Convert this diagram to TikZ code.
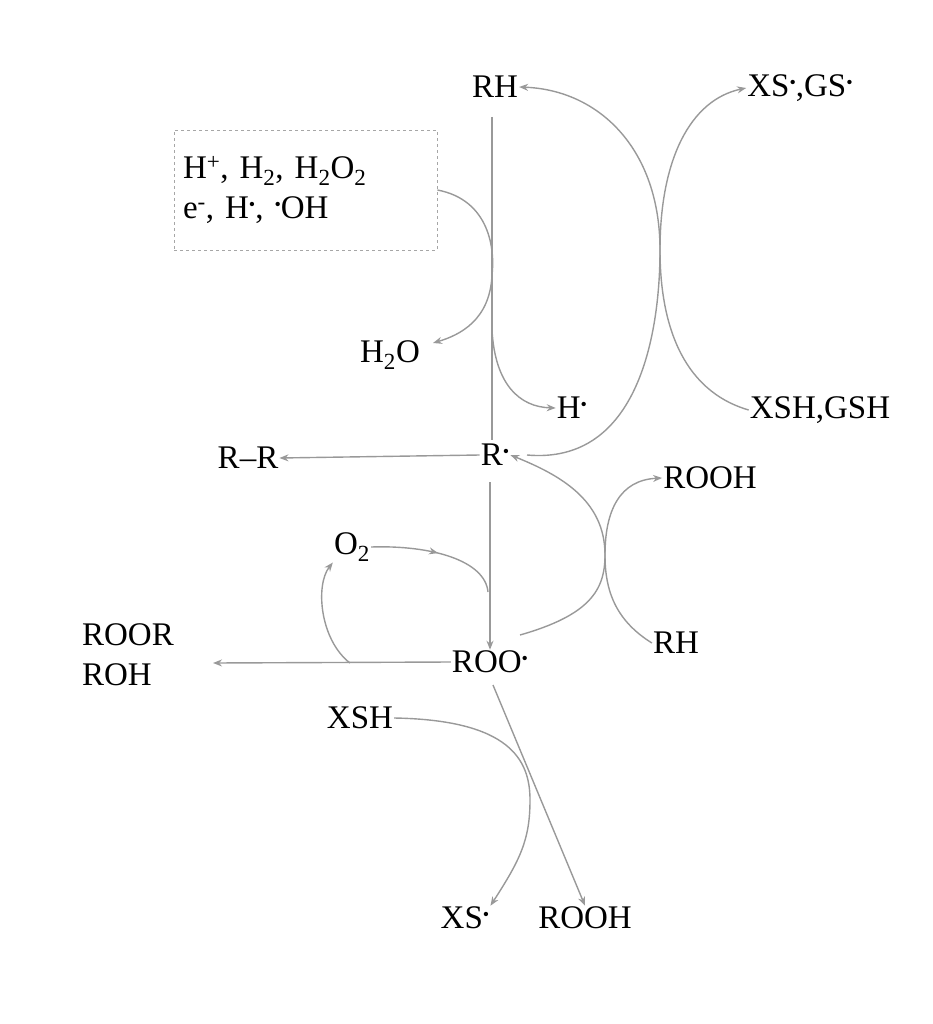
\documentclass[tikz,border=0pt]{standalone}
\usepackage{fontspec}
\setmainfont{Liberation Serif}
\usetikzlibrary{arrows.meta,decorations.markings}
\newcommand{\rad}{\raisebox{0.55ex}{\scalebox{0.55}{\textbullet}}}

\begin{document}
\begin{tikzpicture}[x=1pt,y=-1pt,
    chem/.style={font=\fontsize{33}{40}\selectfont, inner sep=1pt},
    link/.style={draw=gray!80, line width=1.4pt},
    arr/.style={link, -{Stealth[length=9pt,width=7pt]}},
    midarr/.style={link, decoration={markings,mark=at position 0.5 with {\arrow{Stealth[length=9pt,width=7pt]}}},postaction={decorate}}]
    \useasboundingbox (0,0) rectangle (932,1024);

    % species
    \node[chem] (rh) at (495,87) {RH};
    \node[chem] (xsgs) at (800,88) {XS\rad,GS\rad};
    \node[chem, draw=gray!70, dashed, line width=0.8pt, align=left, inner sep=8pt,
          minimum width=263pt, minimum height=120pt, text width=245pt] (src) at (305.5,190)
        {H\textsuperscript{+}, H\textsubscript{2}, H\textsubscript{2}O\textsubscript{2}\\ e\textsuperscript{-}, H\rad, \rad OH};
    \node[chem] (h2o) at (390,355) {H\textsubscript{2}O};
    \node[chem] (hrad) at (572,408) {H\rad};
    \node[chem] (xshgsh) at (820,410) {XSH,GSH};
    \node[chem] (rr) at (248,458) {R–R};
    \node[chem] (r) at (495,455) {R\rad};
    \node[chem] (rooh1) at (710,478) {ROOH};
    \node[chem] (o2) at (352,547) {O\textsubscript{2}};
    \node[chem, align=left] (roor) at (128,655) {ROOR\\ROH};
    \node[chem] (rh2) at (676,643) {RH};
    \node[chem] (roo) at (490,662) {ROO\rad};
    \node[chem] (xsh) at (360,718) {XSH};
    \node[chem] (xs) at (465,918) {XS\rad};
    \node[chem] (rooh2) at (585,918) {ROOH};

    % main chain
    \draw[link] (492,117) -- (492,440);
    \draw[arr] (r.west) -- (rr.east);
    \draw[arr] (490,482) -- (roo.north -| 490,0);
    \draw[arr] (roo.west) -- (213,663);

    % initiation
    \draw[arr] (src.east) .. controls (490,200) and (495,250) .. (492,275)
        .. controls (490,320) and (460,335) .. (433,343);
    \draw[arr] (492,330) .. controls (495,385) and (520,407) .. (hrad.west);

    % thiol repair
    \draw[arr] (527,455) .. controls (640,465) and (660,330) .. (660,250)
        .. controls (660,150) and (600,90) .. (rh.east);
    \draw[arr] (xshgsh.west) .. controls (680,390) and (660,320) .. (660,250)
        .. controls (660,160) and (690,100) .. (xsgs.west);

    % oxygen addition
    \draw[midarr] (o2.east) .. controls (430,545) and (485,560) .. (488,592);
    \draw[arr] (350,663) .. controls (320,640) and (315,585) .. (o2.south west);

    % propagation
    \draw[arr] (520,635) .. controls (590,615) and (605,590) .. (605,555)
        .. controls (605,500) and (560,475) .. (r.east);
    \draw[arr] (rh2.west) .. controls (615,620) and (605,590) .. (605,555)
        .. controls (605,510) and (620,480) .. (rooh1.west);

    % thiol scavenging
    \draw[arr] (xsh.east) .. controls (510,720) and (530,760) .. (530,800)
        .. controls (530,840) and (520,860) .. (xs.north east);
    \draw[arr] (493,685) -- (rooh2.north);
\end{tikzpicture}
\end{document}
